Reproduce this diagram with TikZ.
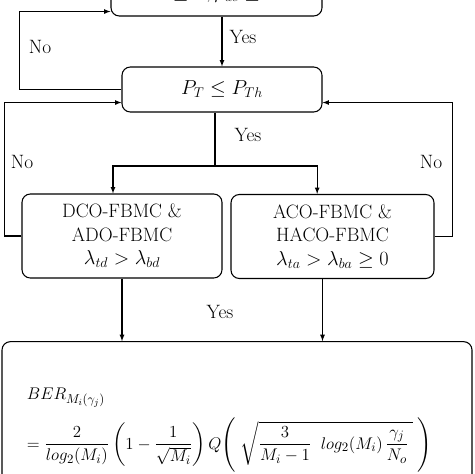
\documentclass[tikz,border=0pt]{standalone}
\usepackage{amsmath,amssymb}
\usepackage{tikz}

\tikzset{
  flowbox/.style={draw,line width=.9pt,rounded corners=.25cm,align=center,
    font=\fontsize{16.5}{20}\selectfont},
  lbl/.style={font=\fontsize{16.5}{20}\selectfont,inner sep=0pt},
}

\begin{document}
\begin{tikzpicture}[x=.03cm,y=-.03cm,>=latex,line width=.9pt]
  \useasboundingbox (0,0) rectangle (474,474);
  \clip (0,0) rectangle (474,474);
  \node[flowbox,minimum width=6.33cm,minimum height=1.38cm] (range) at (216.5,-7) {$0 \le \lambda, \rho_{dc} \le 1$};
  \node[flowbox,minimum width=6cm,minimum height=1.35cm] (pt) at (222,89.5) {$P_T \le P_{Th}$};
  \node[flowbox,minimum width=6cm,minimum height=2.52cm] (dco) at (122,236) {DCO-FBMC \&\\ADO-FBMC\\$\lambda_{td} > \lambda_{bd}$};
  \node[flowbox,minimum width=6.09cm,minimum height=2.52cm] (aco) at (332.5,236.5) {ACO-FBMC \&\\HACO-FBMC\\$\lambda_{ta} > \lambda_{ba} \ge 0$};
  \node[flowbox,font=\fontsize{15.5}{19}\selectfont,minimum width=14.1cm,minimum height=5.3cm,text width=12.6cm,inner xsep=.75cm,align=left] (ber) at (237,430)
    {$BER_{M_i(\gamma_j)}$\\[8pt]
     $\displaystyle = \frac{2}{log_2(M_i)}\left(1-\frac{1}{\sqrt{M_i}}\right)Q\Biggl(\;\sqrt{\frac{3}{M_i-1}\;\;log_2(M_i)\,\frac{\gamma_j}{N_o}\;}\;\Biggr)$};

  \draw[->] (range.south -| pt.north) -- (pt.north);
  \node[lbl] (yes1) at (243,37) {Yes};
  \draw[->] (pt.west) -- ++(-102,0) |- ([yshift=.15cm]range.south west);
  \node[lbl] (no1) at (40,47) {No};

  \coordinate (split) at (215,166);
  \draw (pt.south -| split) -- (split);
  \draw[->] (split) -| ([xshift=-.27cm]dco.north);
  \draw[->] (split) -| ([xshift=-.46cm]aco.north);
  \node[lbl] (yes2) at (248,135) {Yes};

  \draw[->] (dco.west) -- ++(-17,0) |- ([yshift=.3cm]pt.south west);
  \node[lbl] (no2) at (22,162) {No};
  \draw[->] (aco.east) -- ++(18,0) |- ([yshift=.3cm]pt.south east);
  \node[lbl] (no3) at (431,162) {No};

  \draw[->] (dco.south) -- (dco.south |- ber.north);
  \draw[->] ([xshift=-.3cm]aco.south) -- ([xshift=-.3cm]aco.south |- ber.north);
  \node[lbl] (yes3) at (220,312) {Yes};
\end{tikzpicture}
\end{document}
